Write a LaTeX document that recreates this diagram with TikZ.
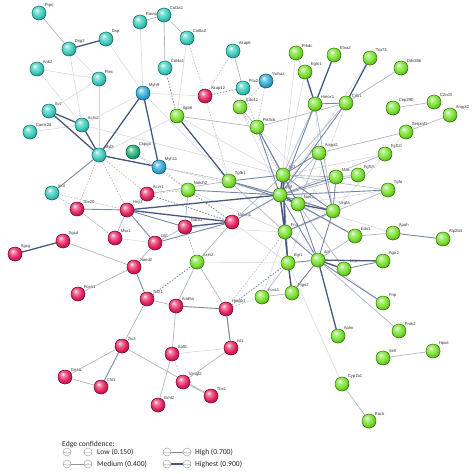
\documentclass[tikz,border=0pt]{standalone}
\usepackage{fontspec}
\setmainfont{Liberation Sans}
\newfontfamily\legfont{Carlito}
\definecolor{cT}{RGB}{60,205,190}
\definecolor{cTb}{RGB}{50,170,215}
\definecolor{cTg}{RGB}{35,175,120}
\definecolor{cG}{RGB}{120,225,45}
\definecolor{cP}{RGB}{230,35,95}
\definecolor{eA}{RGB}{208,212,222}
\definecolor{eB}{RGB}{175,182,198}
\definecolor{eC}{RGB}{120,135,165}
\definecolor{eD}{RGB}{70,88,125}
\pgfdeclareradialshading{shT}{\pgfpoint{-9bp}{11bp}}{color(0bp)=(white); color(7bp)=(cT!55!white); color(20bp)=(cT); color(27bp)=(cT!80!black); color(32bp)=(cT!55!black); color(50bp)=(cT!40!black)}
\pgfdeclareradialshading{shTb}{\pgfpoint{-9bp}{11bp}}{color(0bp)=(white); color(7bp)=(cTb!55!white); color(20bp)=(cTb); color(27bp)=(cTb!80!black); color(32bp)=(cTb!55!black); color(50bp)=(cTb!40!black)}
\pgfdeclareradialshading{shTg}{\pgfpoint{-9bp}{11bp}}{color(0bp)=(white); color(7bp)=(cTg!55!white); color(20bp)=(cTg); color(27bp)=(cTg!80!black); color(32bp)=(cTg!55!black); color(50bp)=(cTg!40!black)}
\pgfdeclareradialshading{shG}{\pgfpoint{-9bp}{11bp}}{color(0bp)=(white); color(7bp)=(cG!55!white); color(20bp)=(cG); color(27bp)=(cG!80!black); color(32bp)=(cG!55!black); color(50bp)=(cG!40!black)}
\pgfdeclareradialshading{shP}{\pgfpoint{-9bp}{11bp}}{color(0bp)=(white); color(7bp)=(cP!55!white); color(20bp)=(cP); color(27bp)=(cP!80!black); color(32bp)=(cP!55!black); color(50bp)=(cP!40!black)}
\tikzset{
  ballnode/.style={circle, minimum size=14pt, inner sep=0pt, draw=#1!50!black, line width=0.3pt, shading=sh#1},
  gT/.style={ballnode=cT}, gTb/.style={ballnode=cTb}, gTg/.style={ballnode=cTg},
  gG/.style={ballnode=cG}, gP/.style={ballnode=cP},
  lbl/.style={font=\fontsize{4.2}{5}\selectfont, text=black!80, inner sep=0.6pt},
  lab/.style={label={[lbl]45:#1}},
  e1/.style={draw=eA, line width=0.5pt},
  e2/.style={draw=eB, line width=0.7pt},
  e3/.style={draw=eC, line width=0.9pt},
  e4/.style={draw=eD, line width=1.3pt},
  d1/.style={draw=eB, line width=0.6pt, dash pattern=on 1.5pt off 1.5pt},
  d2/.style={draw=eC, line width=0.8pt, dash pattern=on 1.5pt off 1.5pt},
  legball/.style={circle, minimum size=8pt, inner sep=0pt, draw=gray!70, line width=0.5pt, fill=white},
  legtxt/.style={font=\legfont\fontsize{7.6}{9}\selectfont, text=black!85, inner sep=0pt, anchor=west}
}
\pgfdeclareradialshading{shcT}{\pgfpoint{-9bp}{11bp}}{color(0bp)=(white); color(7bp)=(cT!55!white); color(20bp)=(cT); color(27bp)=(cT!80!black); color(32bp)=(cT!55!black); color(50bp)=(cT!40!black)}
\pgfdeclareradialshading{shcTb}{\pgfpoint{-9bp}{11bp}}{color(0bp)=(white); color(7bp)=(cTb!55!white); color(20bp)=(cTb); color(27bp)=(cTb!80!black); color(32bp)=(cTb!55!black); color(50bp)=(cTb!40!black)}
\pgfdeclareradialshading{shcTg}{\pgfpoint{-9bp}{11bp}}{color(0bp)=(white); color(7bp)=(cTg!55!white); color(20bp)=(cTg); color(27bp)=(cTg!80!black); color(32bp)=(cTg!55!black); color(50bp)=(cTg!40!black)}
\pgfdeclareradialshading{shcG}{\pgfpoint{-9bp}{11bp}}{color(0bp)=(white); color(7bp)=(cG!55!white); color(20bp)=(cG); color(27bp)=(cG!80!black); color(32bp)=(cG!55!black); color(50bp)=(cG!40!black)}
\pgfdeclareradialshading{shcP}{\pgfpoint{-9bp}{11bp}}{color(0bp)=(white); color(7bp)=(cP!55!white); color(20bp)=(cP); color(27bp)=(cP!80!black); color(32bp)=(cP!55!black); color(50bp)=(cP!40!black)}
\begin{document}
\begin{tikzpicture}[x=1pt,y=-1pt]
\useasboundingbox (0,0) rectangle (474,474);
% ---------- nodes: teal cluster
\node[gT,lab=Ptprj] (ptprj) at (39,13) {};
\node[gT,lab=Dsg2] (dsg2) at (69,49) {};
\node[gT,lab=Dsp] (dsp) at (106,39) {};
\node[gT,lab=Ank2] (ank2) at (37,69) {};
\node[gT,lab=Plec] (plec) at (99,79) {};
\node[gTb,lab=Myh9] (myh9) at (143,93) {};
\node[gT,lab=Svil] (svil) at (49,111) {};
\node[gT,lab=Actn2] (actn2) at (82,125) {};
\node[gT,lab=Camk2d] (camk) at (30,132) {};
\node[gT,lab=Myl3] (myl3) at (99,155) {};
\node[gTg,lab=Cspg4] (cspg) at (133,152) {};
\node[gTb,lab=Myh11] (myh11) at (159,167) {};
\node[gT,lab=Irx4] (irx4) at (52,193) {};
\node[gT,lab=Ramp2] (ramp) at (140,22) {};
\node[gT,lab=Col1a1] (col1a1) at (164,15) {};
\node[gT,lab=Col6a2] (col6a2) at (187,38) {};
\node[gT,lab=Col4a1] (col4a1) at (165,68) {};
\node[gT,lab=Akap6] (akap6) at (233,51) {};
\node[gT,lab=Pitx2] (pitx2) at (243,88) {};
\node[gTb,lab=Ywhaz] (ywhaz) at (266,81) {};
% ---------- pink cluster
\node[gP,lab=Akap12] (akap12) at (205,96) {};
\node[gP,lab=Tbx20] (tbx20) at (77,209) {};
\node[gP,lab=Hey2] (hey2) at (127,210) {};
\node[gP,lab=Acvr1] (acvr1) at (147,194) {};
\node[gP,lab=Sgcd] (sgcd) at (63,241) {};
\node[gP,lab=Sgcg] (sgcg) at (15,254) {};
\node[gP,lab=Msx1] (msx1) at (115,238) {};
\node[gP,lab=Gli1] (gli1) at (155,243) {};
\node[gP,lab=Gata3] (gata) at (185,227) {};
\node[gP,lab=Notch1] (notch1) at (232,222) {};
\node[gP,lab=Hand2] (hand2) at (134,267) {};
\node[gP,lab=Foxo1] (foxo1) at (78,294) {};
\node[gP,lab=Tcf21] (tcf) at (147,299) {};
\node[gP,lab=Arid5a] (arid) at (176,306) {};
\node[gP,lab=Hmgb1] (hmgb1) at (226,309) {};
\node[gP,lab=Zic3] (zic3) at (122,346) {};
\node[gP,lab=Sall1] (sall1) at (172,354) {};
\node[gP,lab=Isl1] (isl1) at (231,348) {};
\node[gP,lab=Gnai1] (gnai) at (65,377) {};
\node[gP,lab=Chl1] (chl1) at (101,387) {};
\node[gP,lab=Vangl2] (vangl2) at (183,382) {};
\node[gP,lab=Grhl2] (grhl2) at (158,405) {};
\node[gP,lab=Tbx1] (tbx1) at (211,396) {};
% ---------- green cluster
\node[gG,lab=Cdc42] (cdc42) at (240,107) {};
\node[gG,lab=Itgb8] (itgb8) at (177,116) {};
\node[gG,lab=Pik3cb] (pik3cb) at (257,127) {};
\node[gG,lab=Prkdc] (prkdc) at (296,53) {};
\node[gG,lab=Egln1] (egln1) at (305,72) {};
\node[gG,lab=Efna2] (efna2) at (334,55) {};
\node[gG,lab=Trp73] (trp73) at (370,58) {};
\node[gG,lab=Ddx39b] (ddx) at (401,68) {};
\node[gG,lab=Hmox1] (hmox1) at (315,104) {};
\node[gG,lab=Cdk1] (cdk1) at (346,103) {};
\node[gG,lab=Cep290] (cep290) at (393,108) {};
\node[gG,lab=C2cd3] (c2cd3) at (434,102) {};
\node[gG,lab=Angpt2] (angpt2) at (450,115) {};
\node[gG,lab=Serpinf1] (serpin) at (406,132) {};
\node[gG,lab=Angpt1] (angpt1) at (319,153) {};
\node[gG,lab=Fgf10] (fgf10) at (385,154) {};
\node[gG,lab=Mdk] (mdk) at (336,177) {};
\node[gG,lab=Fgf15] (fgf15) at (358,175) {};
\node[gG,lab=Tgfa] (tgfa) at (388,190) {};
\node[gG,lab=Vegfa] (vegfa) at (333,211) {};
\node[gG,lab=Edn1] (edn1) at (355,236) {};
\node[gG,lab=Apoh] (apoh) at (393,233) {};
\node[gG,lab=Atp2b4] (atp) at (443,239) {};
\node[gG,lab=Tgfb1] (tgfb1) at (229,181) {};
\node[gG,lab=Notch2] (notch2) at (188,190) {};
\node[gG,lab=Igf1] (igf1) at (283,175) {};
\node[gG,lab=Egf] (egf) at (280,195) {};
\node[gG,lab=Nos3] (nos3) at (298,204) {};
\node[gG,lab=Fn1] (fn1) at (285,232) {};
\node[gG,lab=Egr1] (egr1) at (288,263) {};
\node[gG,lab=Agt] (agt) at (318,260) {};
\node[gG,lab=Lep] (lep) at (344,269) {};
\node[gG,lab=Agtr2] (agtr2) at (383,261) {};
\node[gG,lab=Axin2] (axin2) at (197,262) {};
\node[gG,lab=Foxc1] (foxc1) at (262,297) {};
\node[gG,lab=Ptgs2] (ptgs2) at (292,293) {};
\node[gG,lab=Pnp] (pnp) at (383,303) {};
\node[gG,lab=Prok2] (prok2) at (399,331) {};
\node[gG,lab=Aplnr] (aplnr) at (338,336) {};
\node[gG,lab=Sell] (sell) at (383,358) {};
\node[gG,lab=Hpse] (hpse) at (433,351) {};
\node[gG,lab=Cyp1b1] (cyp1b1) at (342,384) {};
\node[gG,lab=Rock] (rock) at (369,421) {};
% ---------- edges
\foreach \a/\b in {dsg2/plec, dsg2/actn2, dsp/myh9, ank2/plec, ank2/actn2, plec/svil, camk/actn2,
  actn2/myh9, ramp/myh9, myh9/akap12, plec/myl3, myh9/tgfb1, myl3/tgfb1, myh11/egf, actn2/igf1,
  cspg/myh11, myl3/itgb8, col6a2/itgb8, prkdc/hmox1, prkdc/egf, cdk1/egr1, cyp1b1/egr1,
  hmox1/angpt1, serpin/vegfa, fgf10/igf1, tgfa/nos3, apoh/nos3, msx1/gli1, tbx20/msx1,
  acvr1/hey2, isl1/sall1, axin2/egr1, foxc1/fn1, gata/fn1, notch2/fn1, pik3cb/vegfa,
  itgb8/igf1, cdc42/egf, egln1/egf, efna2/egf, trp73/egf, notch1/egr1, pnp/fn1}
  \draw[e1] (\a) -- (\b);
\foreach \a/\b in {ptprj/dsg2, col1a1/col6a2, col1a1/col4a1, col1a1/ramp, akap6/pitx2, cdk1/ddx,
  cep290/c2cd3, angpt2/serpin, serpin/angpt1, edn1/apoh, sell/hpse, cyp1b1/rock, gnai/chl1,
  zic3/gnai, zic3/tbx1, sall1/arid, sall1/grhl2, isl1/vangl2, vangl2/tbx1, hand2/foxo1,
  sgcd/hand2, zic3/tcf, agt/prok2, hey2/msx1, gli1/gata, hand2/gli1, tcf/arid, notch1/axin2,
  axin2/hmgb1, hmgb1/isl1, cdc42/pik3cb, mdk/fgf15, fgf10/egf, angpt1/egf, angpt1/nos3,
  tgfb1/vegfa, tgfb1/fn1, egf/edn1, nos3/lep, fn1/tgfa, hmox1/igf1, hmox1/vegfa, cdk1/pik3cb,
  egr1/foxc1, ptgs2/foxc1, fgf15/egf, tgfa/igf1, mdk/igf1, cdk1/igf1, notch1/igf1, agt/edn1,
  acvr1/tgfb1, itgb8/pik3cb, gata/notch2, arid/axin2}
  \draw[e2] (\a) -- (\b);
\foreach \a/\b in {myl3/irx4, apoh/atp, hmox1/cdk1, arid/hmgb1, isl1/hmgb1, zic3/chl1,
  tbx20/hey2, hey2/gli1, hey2/gata, gli1/notch1, hand2/tcf, tgfb1/igf1, tgfb1/egf, tgfb1/nos3,
  notch2/egf, igf1/vegfa, igf1/angpt1, egf/mdk, egf/tgfa, egf/vegfa, nos3/agt, nos3/edn1,
  fn1/vegfa, fn1/agt, egr1/agt, ptgs2/agt, agt/vegfa, egf/agt, pik3cb/egf, pik3cb/igf1,
  pik3cb/nos3, angpt1/vegfa, pnp/agt, egf/egr1, igf1/egr1, egf/ptgs2, notch1/egf, lep/agtr2,
  cdk1/egf, igf1/nos3, mdk/vegfa, hmox1/egf}
  \draw[e3] (\a) -- (\b);
\foreach \a/\b in {dsg2/dsp, svil/actn2, svil/myl3, actn2/myl3, myh9/myl3, myh9/myh11,
  myl3/myh11, sgcg/sgcd, egln1/hmox1, efna2/hmox1, trp73/cdk1, itgb8/tgfb1, agt/lep,
  agt/agtr2, agt/aplnr, hey2/notch1, gata/notch1, egf/fn1, egr1/ptgs2, igf1/egf, nos3/vegfa,
  fn1/egr1, hey2/egf, egf/nos3, fn1/igf1}
  \draw[e4] (\a) -- (\b);
\foreach \a/\b in {col6a2/akap12, akap6/akap12, pitx2/pik3cb, ywhaz/pik3cb, ywhaz/cdc42,
  hmgb1/foxc1, acvr1/notch2, myh11/notch2, myl3/tbx20, irx4/tbx20, irx4/hey2, cspg/notch2,
  myl3/hey2, vangl2/sall1, gata/axin2, myh11/tgfb1, myl3/acvr1, akap12/tgfb1, hmgb1/fn1,
  tbx20/msx1, cdc42/nos3}
  \draw[d1] (\a) -- (\b);
\foreach \a/\b in {col4a1/itgb8, pitx2/akap12, tcf/axin2, hmgb1/egr1, notch2/notch1, acvr1/notch1}
  \draw[d2] (\a) -- (\b);
% redraw balls on top of the connectors
\foreach \n/\c in {ptprj/cT, dsg2/cT, dsp/cT, ank2/cT, plec/cT, myh9/cTb, svil/cT, actn2/cT,
  camk/cT, myl3/cT, cspg/cTg, myh11/cTb, irx4/cT, ramp/cT, col1a1/cT, col6a2/cT, col4a1/cT,
  akap6/cT, pitx2/cT, ywhaz/cTb, akap12/cP, tbx20/cP, hey2/cP, acvr1/cP, sgcd/cP, sgcg/cP,
  msx1/cP, gli1/cP, gata/cP, notch1/cP, hand2/cP, foxo1/cP, tcf/cP, arid/cP, hmgb1/cP, zic3/cP,
  sall1/cP, isl1/cP, gnai/cP, chl1/cP, vangl2/cP, grhl2/cP, tbx1/cP, cdc42/cG, itgb8/cG,
  pik3cb/cG, prkdc/cG, egln1/cG, efna2/cG, trp73/cG, ddx/cG, hmox1/cG, cdk1/cG, cep290/cG,
  c2cd3/cG, angpt2/cG, serpin/cG, angpt1/cG, fgf10/cG, mdk/cG, fgf15/cG, tgfa/cG, vegfa/cG,
  edn1/cG, apoh/cG, atp/cG, tgfb1/cG, notch2/cG, igf1/cG, egf/cG, nos3/cG, fn1/cG, egr1/cG,
  agt/cG, lep/cG, agtr2/cG, axin2/cG, foxc1/cG, ptgs2/cG, pnp/cG, prok2/cG, aplnr/cG, sell/cG,
  hpse/cG, cyp1b1/cG, rock/cG}
  \path (\n.center) node[ballnode=\c] {};
% ---------- legend
\node[legtxt] (legtitle) at (62,445) {Edge confidence:};
\node[legball] (la1) at (67,452) {};
\node[legball] (la2) at (88,452) {};
\node[legball] (lb1) at (67,464) {};
\node[legball] (lb2) at (88,464) {};
\node[legball] (lc1) at (167,452) {};
\node[legball] (lc2) at (187,452) {};
\node[legball] (ld1) at (167,464) {};
\node[legball] (ld2) at (187,464) {};
\draw[draw=gray!85, line width=0.5pt] (lb1) -- (lb2);
\draw[draw=eC, line width=0.9pt] (lc1) -- (lc2);
\draw[draw=eD, line width=1.4pt] (ld1) -- (ld2);
\foreach \n in {la1,la2,lb1,lb2,lc1,lc2,ld1,ld2}
  \draw[gray!70, line width=0.4pt] (\n.west) to[bend right=25] (\n.east);
\node[legtxt] (lowt) at (97,452) {Low (0.150)};
\node[legtxt] (medt) at (97,464) {Medium (0.400)};
\node[legtxt] (hight) at (195,452) {High (0.700)};
\node[legtxt] (hstt) at (195,464) {Highest (0.900)};
\end{tikzpicture}
\end{document}
